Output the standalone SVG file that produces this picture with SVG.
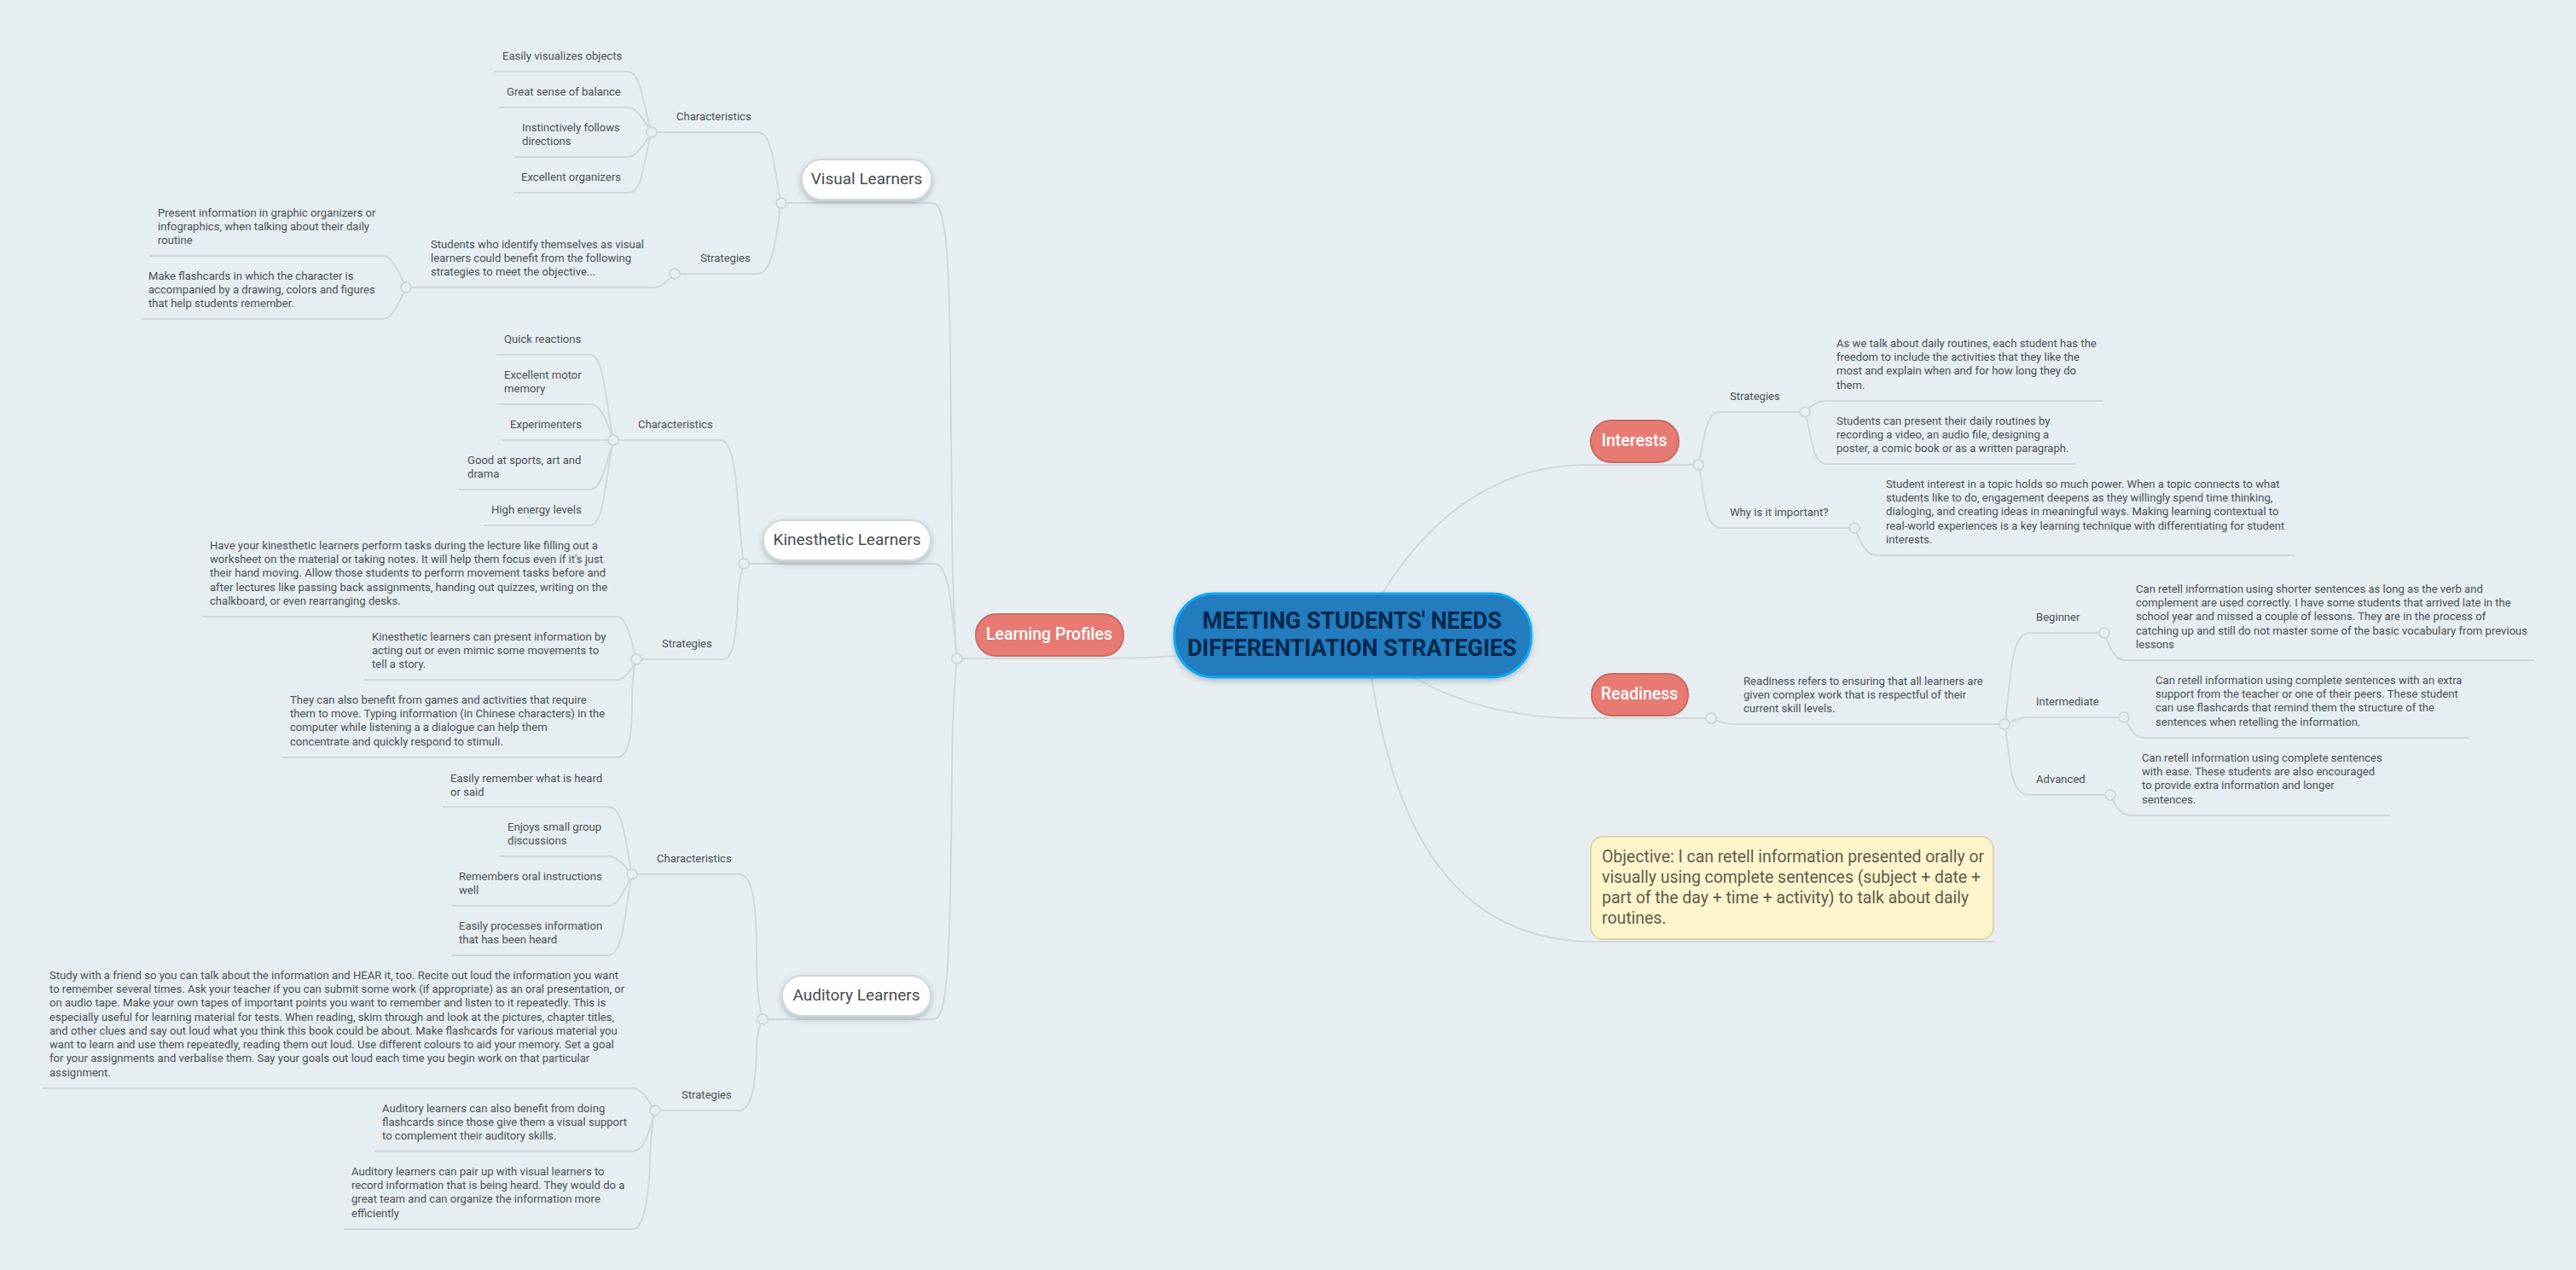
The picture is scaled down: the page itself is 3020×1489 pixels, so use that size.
<svg xmlns="http://www.w3.org/2000/svg" width="3020" height="1489" viewBox="0 0 3020 1489">
<defs>
<filter id="sh" x="-20%" y="-30%" width="140%" height="170%"><feDropShadow dx="0" dy="3" stdDeviation="3" flood-color="#3a4a50" flood-opacity="0.3"/></filter>
</defs>
<style>
text{font-family:"Roboto","Liberation Sans",sans-serif}
.c{fill:none;stroke:#d0d8db;stroke-width:2}
.h{fill:#e6eef1;stroke:#d0d8db;stroke-width:2}
.t{font-size:13.1px;fill:#4c5155}
.white rect{fill:#fff;stroke:#d0d8db;stroke-width:2;filter:url(#sh)}
.white text{font-size:19px;fill:#474c50;text-anchor:middle}
.red rect{fill:#e77b73;stroke:#c96a63;stroke-width:2}
.red text{font-size:19.5px;font-weight:500;fill:#fff;text-anchor:middle}
</style>
<rect width="3020" height="1489" fill="#e6eef1"/>
<g id="connectors">
<path class="c" d="M1122 772H1300Q1340 772 1380 769"/>
<path class="c" d="M916 238H1094C1112 238 1114 340 1115 500C1116 650 1117 720 1122 772"/>
<path class="c" d="M872 661H1095C1115 661 1115 720 1122 772"/>
<path class="c" d="M894 1195H1095C1110 1195 1113 1130 1115 1000C1116 900 1116 820 1122 772"/>
<path class="c" d="M764 155H888C908 155 908 210 916 238"/>
<path class="c" d="M791 321H888C908 321 910 270 916 238"/>
<path class="c" d="M580 84H737C752 84 755 130 764 155"/>
<path class="c" d="M585 126H737C745 126 755 140 764 155"/>
<path class="c" d="M603 184H737C745 184 755 170 764 155"/>
<path class="c" d="M602 226H737C755 226 755 180 764 155"/>
<path class="c" d="M476 337H766C776 337 782 330 791 321"/>
<path class="c" d="M176 300H449C460 300 468 320 476 337"/>
<path class="c" d="M166 374H449C460 374 468 355 476 337"/>
<path class="c" d="M719 516H845C866 516 864 610 872 661"/>
<path class="c" d="M746 773H848C862 773 864 730 865 700C866 685 868 675 872 661"/>
<path class="c" d="M582 416H692C708 416 710 470 719 516"/>
<path class="c" d="M582 474H692C705 474 712 495 719 516"/>
<path class="c" d="M589 516H719"/>
<path class="c" d="M538 574H692C705 574 712 540 719 516"/>
<path class="c" d="M567 616H692C708 616 710 560 719 516"/>
<path class="c" d="M237 723H723C735 723 740 750 746 773"/>
<path class="c" d="M427 797H723C733 797 740 785 746 773"/>
<path class="c" d="M331 888H723C738 888 741 860 741 820C741 800 742 785 746 773"/>
<path class="c" d="M741 1025H867C882 1025 887 1060 887 1120C887 1150 888 1175 894 1195"/>
<path class="c" d="M768 1302H866C882 1302 886 1270 887 1230C887 1215 889 1205 894 1195"/>
<path class="c" d="M519 946H713C732 946 733 990 741 1025"/>
<path class="c" d="M586 1004H713C725 1004 733 1017 741 1025"/>
<path class="c" d="M529 1062H713C725 1062 733 1042 741 1025"/>
<path class="c" d="M529 1120H713C732 1120 733 1060 741 1025"/>
<path class="c" d="M49 1276H742C752 1276 760 1290 768 1302"/>
<path class="c" d="M439 1350H742C757 1350 762 1320 768 1302"/>
<path class="c" d="M403 1441H742C755 1441 761 1400 762 1360C763 1335 764 1315 768 1302"/>
<path class="c" d="M1621 695C1680 600 1760 545 1860 545H1991"/>
<path class="c" d="M1991 545C1998 520 1998 483 2016 483H2116"/>
<path class="c" d="M1991 545C1998 570 1996 619 2018 619H2174"/>
<path class="c" d="M2116 483C2122 476 2130 470 2141 470H2466"/>
<path class="c" d="M2116 483C2124 510 2124 544 2141 544H2434"/>
<path class="c" d="M2174 619C2180 632 2186 651 2200 651H2690"/>
<path class="c" d="M1659 795C1720 830 1790 842 1849 842H2006"/>
<path class="c" d="M2006 842C2014 845 2020 849 2032 849H2349"/>
<path class="c" d="M2350 849C2358 810 2354 742 2380 742H2467"/>
<path class="c" d="M2350 849C2360 846 2366 841 2378 841H2490"/>
<path class="c" d="M2350 849C2358 890 2354 932 2380 932H2474"/>
<path class="c" d="M2467 742C2472 755 2478 774 2491 774H2971"/>
<path class="c" d="M2490 841C2496 852 2502 865 2514 865H2895"/>
<path class="c" d="M2474 932C2479 944 2486 956 2498 956H2802"/>
<path class="c" d="M1608 795C1630 930 1680 1104 1870 1104H2339"/>
<circle class="h" cx="1122" cy="772" r="6"/><circle class="h" cx="916" cy="238" r="6"/><circle class="h" cx="872" cy="661" r="6"/><circle class="h" cx="894" cy="1195" r="6"/>
<circle class="h" cx="764" cy="155" r="6"/><circle class="h" cx="791" cy="321" r="6"/><circle class="h" cx="476" cy="337" r="6"/><circle class="h" cx="719" cy="516" r="6"/><circle class="h" cx="746" cy="773" r="6"/><circle class="h" cx="741" cy="1025" r="6"/><circle class="h" cx="768" cy="1302" r="6"/>
<circle class="h" cx="1991" cy="545" r="6"/><circle class="h" cx="2116" cy="483" r="6"/><circle class="h" cx="2174" cy="619" r="6"/><circle class="h" cx="2006" cy="842" r="6"/><circle class="h" cx="2350" cy="849" r="6"/><circle class="h" cx="2467" cy="742" r="6"/><circle class="h" cx="2490" cy="841" r="6"/><circle class="h" cx="2474" cy="932" r="6"/>
</g>
<g id="root"><rect x="1377" y="696" width="418" height="98" rx="46" fill="#217cbd" stroke="#08a8f8" stroke-width="3" filter="url(#sh)"/>
<text x="1585" y="737" font-size="26.8" font-weight="700" fill="#00284d" text-anchor="middle">MEETING STUDENTS' NEEDS</text>
<text x="1585" y="769" font-size="26.8" font-weight="700" fill="#00284d" text-anchor="middle">DIFFERENTIATION STRATEGIES</text></g>
<g id="learning-profiles" class="red"><rect x="1144" y="720" width="173" height="49" rx="24"/><text x="1230" y="750">Learning Profiles</text></g>
<g id="interests" class="red"><rect x="1865" y="493" width="103" height="49" rx="24"/><text x="1916" y="523">Interests</text></g>
<g id="readiness" class="red"><rect x="1866" y="790" width="113" height="49" rx="24"/><text x="1922" y="820">Readiness</text></g>
<g id="visual" class="white"><rect x="940" y="187" width="152" height="47" rx="23"/><text x="1016" y="216">Visual Learners</text></g>
<g id="kinesthetic" class="white"><rect x="895" y="610" width="196" height="47" rx="23"/><text x="993" y="639">Kinesthetic Learners</text></g>
<g id="auditory" class="white"><rect x="917" y="1144" width="174" height="47" rx="23"/><text x="1004" y="1173">Auditory Learners</text></g>
<g id="objective"><rect x="1865" y="981" width="472" height="120" rx="14" fill="#fff4cc" stroke="#e0d6a6" stroke-width="2"/>
<text font-size="19.4" fill="#5f5c4e"><tspan x="1878" y="1011">Objective: I can retell information presented orally or</tspan><tspan x="1878" y="1035">visually using complete sentences (subject + date +</tspan><tspan x="1878" y="1059">part of the day + time + activity) to talk about daily</tspan><tspan x="1878" y="1083">routines.</tspan></text></g>
<g id="v-char"><text class="t" x="793" y="141">Characteristics</text></g>
<g id="v-strat"><text class="t" x="821" y="307">Strategies</text></g>
<g id="v1"><text class="t" x="589" y="70">Easily visualizes objects</text></g>
<g id="v2"><text class="t" x="594" y="112">Great sense of balance</text></g>
<g id="v3"><text class="t"><tspan x="612" y="154">Instinctively follows</tspan><tspan x="612" y="170">directions</tspan></text></g>
<g id="v4"><text class="t" x="611" y="212">Excellent organizers</text></g>
<g id="v5"><text class="t"><tspan x="505" y="291">Students who identify themselves as visual</tspan><tspan x="505" y="307">learners could benefit from the following</tspan><tspan x="505" y="323">strategies to meet the objective...</tspan></text></g>
<g id="v6"><text class="t"><tspan x="185" y="254">Present information in graphic organizers or</tspan><tspan x="185" y="270">infographics, when talking about their daily</tspan><tspan x="185" y="286">routine</tspan></text></g>
<g id="v7"><text class="t"><tspan x="174" y="328">Make flashcards in which the character is</tspan><tspan x="174" y="344">accompanied by a drawing, colors and figures</tspan><tspan x="174" y="360">that help students remember.</tspan></text></g>
<g id="k-char"><text class="t" x="748" y="502">Characteristics</text></g>
<g id="k-strat"><text class="t" x="776" y="759">Strategies</text></g>
<g id="k1"><text class="t" x="591" y="402">Quick reactions</text></g>
<g id="k2"><text class="t"><tspan x="591" y="444">Excellent motor</tspan><tspan x="591" y="460">memory</tspan></text></g>
<g id="k3"><text class="t" x="598" y="502">Experimenters</text></g>
<g id="k4"><text class="t"><tspan x="548" y="544">Good at sports, art and</tspan><tspan x="548" y="560">drama</tspan></text></g>
<g id="k5"><text class="t" x="576" y="602">High energy levels</text></g>
<g id="k6"><text class="t"><tspan x="246" y="644">Have your kinesthetic learners perform tasks during the lecture like filling out a</tspan><tspan x="246" y="660">worksheet on the material or taking notes. It will help them focus even if it's just</tspan><tspan x="246" y="676">their hand moving. Allow those students to perform movement tasks before and</tspan><tspan x="246" y="693">after lectures like passing back assignments, handing out quizzes, writing on the</tspan><tspan x="246" y="709">chalkboard, or even rearranging desks.</tspan></text></g>
<g id="k7"><text class="t"><tspan x="436" y="751">Kinesthetic learners can present information by</tspan><tspan x="436" y="767">acting out or even mimic some movements to</tspan><tspan x="436" y="783">tell a story.</tspan></text></g>
<g id="k8"><text class="t"><tspan x="340" y="825">They can also benefit from games and activities that require</tspan><tspan x="340" y="841">them to move. Typing information (in Chinese characters) in the</tspan><tspan x="340" y="857">computer while listening a a dialogue can help them</tspan><tspan x="340" y="874">concentrate and quickly respond to stimuli.</tspan></text></g>
<g id="a-char"><text class="t" x="770" y="1011">Characteristics</text></g>
<g id="a-strat"><text class="t" x="799" y="1288">Strategies</text></g>
<g id="a1"><text class="t"><tspan x="528" y="917">Easily remember what is heard</tspan><tspan x="528" y="933">or said</tspan></text></g>
<g id="a2"><text class="t"><tspan x="595" y="974">Enjoys small group</tspan><tspan x="595" y="990">discussions</tspan></text></g>
<g id="a3"><text class="t"><tspan x="538" y="1032">Remembers oral instructions</tspan><tspan x="538" y="1048">well</tspan></text></g>
<g id="a4"><text class="t"><tspan x="538" y="1090">Easily processes information</tspan><tspan x="538" y="1106">that has been heard</tspan></text></g>
<g id="a5"><text class="t"><tspan x="58" y="1148">Study with a friend so you can talk about the information and HEAR it, too. Recite out loud the information you want</tspan><tspan x="58" y="1164">to remember several times. Ask your teacher if you can submit some work (if appropriate) as an oral presentation, or</tspan><tspan x="58" y="1180">on audio tape. Make your own tapes of important points you want to remember and listen to it repeatedly. This is</tspan><tspan x="58" y="1197">especially useful for learning material for tests. When reading, skim through and look at the pictures, chapter titles,</tspan><tspan x="58" y="1213">and other clues and say out loud what you think this book could be about. Make flashcards for various material you</tspan><tspan x="58" y="1229">want to learn and use them repeatedly, reading them out loud. Use different colours to aid your memory. Set a goal</tspan><tspan x="58" y="1245">for your assignments and verbalise them. Say your goals out loud each time you begin work on that particular</tspan><tspan x="58" y="1262">assignment.</tspan></text></g>
<g id="a6"><text class="t"><tspan x="448" y="1304">Auditory learners can also benefit from doing</tspan><tspan x="448" y="1320">flashcards since those give them a visual support</tspan><tspan x="448" y="1336">to complement their auditory skills.</tspan></text></g>
<g id="a7"><text class="t"><tspan x="412" y="1378">Auditory learners can pair up with visual learners to</tspan><tspan x="412" y="1394">record information that is being heard. They would do a</tspan><tspan x="412" y="1410">great team and can organize the information more</tspan><tspan x="412" y="1427">efficiently</tspan></text></g>
<g id="i-strat"><text class="t" x="2028" y="469">Strategies</text></g>
<g id="i-why"><text class="t" x="2028" y="605">Why is it important?</text></g>
<g id="i1"><text class="t"><tspan x="2153" y="407">As we talk about daily routines, each student has the</tspan><tspan x="2153" y="423">freedom to include the activities that they like the</tspan><tspan x="2153" y="439">most and explain when and for how long they do</tspan><tspan x="2153" y="456">them.</tspan></text></g>
<g id="i2"><text class="t"><tspan x="2153" y="498">Students can present their daily routines by</tspan><tspan x="2153" y="514">recording a video, an audio file, designing a</tspan><tspan x="2153" y="530">poster, a comic book or as a written paragraph.</tspan></text></g>
<g id="i3"><text class="t"><tspan x="2211" y="572">Student interest in a topic holds so much power. When a topic connects to what</tspan><tspan x="2211" y="588">students like to do, engagement deepens as they willingly spend time thinking,</tspan><tspan x="2211" y="604">dialoging, and creating ideas in meaningful ways. Making learning contextual to</tspan><tspan x="2211" y="621">real-world experiences is a key learning technique with differentiating for student</tspan><tspan x="2211" y="637">interests.</tspan></text></g>
<g id="r0"><text class="t"><tspan x="2044" y="803">Readiness refers to ensuring that all learners are</tspan><tspan x="2044" y="819">given complex work that is respectful of their</tspan><tspan x="2044" y="835">current skill levels.</tspan></text></g>
<g id="r-beg"><text class="t" x="2387" y="728">Beginner</text></g>
<g id="r-int"><text class="t" x="2387" y="827">Intermediate</text></g>
<g id="r-adv"><text class="t" x="2387" y="918">Advanced</text></g>
<g id="r1"><text class="t"><tspan x="2504" y="695">Can retell information using shorter sentences as long as the verb and</tspan><tspan x="2504" y="711">complement are used correctly. I have some students that arrived late in the</tspan><tspan x="2504" y="727">school year and missed a couple of lessons. They are in the process of</tspan><tspan x="2504" y="744">catching up and still do not master some of the basic vocabulary from previous</tspan><tspan x="2504" y="760">lessons</tspan></text></g>
<g id="r2"><text class="t"><tspan x="2527" y="802">Can retell information using complete sentences with an extra</tspan><tspan x="2527" y="818">support from the teacher or one of their peers. These student</tspan><tspan x="2527" y="834">can use flashcards that remind them the structure of the</tspan><tspan x="2527" y="851">sentences when retelling the information.</tspan></text></g>
<g id="r3"><text class="t"><tspan x="2511" y="893">Can retell information using complete sentences</tspan><tspan x="2511" y="909">with ease. These students are also encouraged</tspan><tspan x="2511" y="925">to provide extra information and longer</tspan><tspan x="2511" y="942">sentences.</tspan></text></g>
</svg>
